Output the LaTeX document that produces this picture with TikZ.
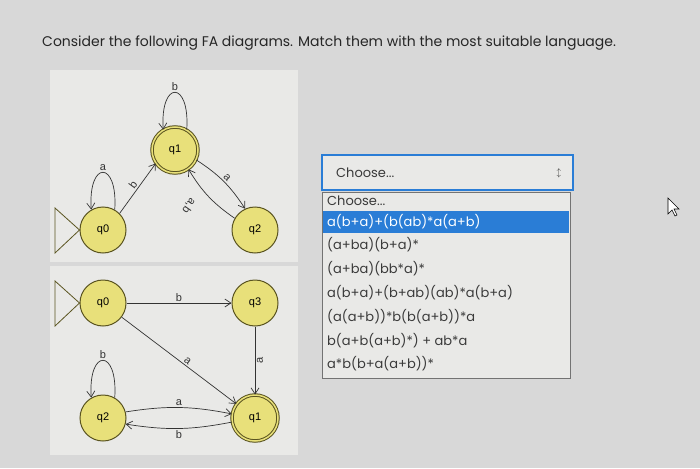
\documentclass[tikz,border=0pt]{standalone}
\usepackage{fontspec}
\setmainfont{Poppins}
\newfontfamily\arialf{Liberation Sans}
\usetikzlibrary{arrows.meta}
\definecolor{bg}{HTML}{D8D8D8}
\definecolor{panel}{HTML}{E9E9E7}
\definecolor{stfill}{HTML}{E8E07A}
\definecolor{stline}{HTML}{5A5420}
\definecolor{selblue}{HTML}{2A7DD6}
\definecolor{txt}{HTML}{3A3A3A}
\tikzset{
  st/.style={circle,draw=stline,line width=1pt,fill=stfill,minimum size=46pt,inner sep=0pt,font=\arialf\fontsize{11}{13}\selectfont},
  acc/.style={st,double=stfill,double distance=1.5pt},
  tr/.style={draw=black!80,line width=0.7pt,-{Straight Barb[length=6pt,width=8pt]}},
  lb/.style={font=\arialf\fontsize{11}{13}\selectfont,text=black!80,inner sep=1.5pt},
  opt/.style={anchor=west,font=\fontsize{13}{15}\selectfont,text=txt,inner sep=0pt},
}
\begin{document}
\begin{tikzpicture}[x=1pt,y=-1pt]
\useasboundingbox (0,0) rectangle (700,468);
\fill[bg] (0,0) rectangle (700,468);
\node[anchor=west,font=\fontsize{14}{16}\selectfont,text=black!85,inner sep=0] (title) at (42,43) {Consider the following FA diagrams. Match them with the most suitable language.};
\fill[panel] (50,70) rectangle (298,262);
\fill[panel] (50,266) rectangle (298,455);
% top FA
\node[acc] (a1) at (175,150) {q1};
\node[st] (a0) at (103,230) {q0};
\node[st] (a2) at (255,230) {q2};
\draw[stline,line width=0.8pt] (a0.west) -- (55,208) -- (55,253) -- cycle;
\draw[tr] (a1.60) .. controls (190,80) and (160,80) .. (a1.120) node[lb,pos=0.5,above] {b};
\draw[tr] (a0.60) .. controls (118,160) and (88,160) .. (a0.120) node[lb,pos=0.5,above] {a};
\draw[tr] (a0.45) -- (a1.215) node[lb,midway,sloped,above] {b};
\draw[tr] (a1.-25) to[bend left=12] node[lb,sloped,above] {a} (a2.115);
\draw[tr] (a2.150) to[bend left=12] (a1.-55);
\node[lb,rotate=-125] (ab) at (189,206) {a,b};
% bottom FA
\node[st] (b0) at (103,303) {q0};
\node[st] (b3) at (255,303) {q3};
\node[st] (b2) at (103,418) {q2};
\node[acc] (b1) at (255,418) {q1};
\draw[stline,line width=0.8pt] (b0.west) -- (55,281) -- (55,326) -- cycle;
\draw[tr] (b0) -- node[lb,above] {b} (b3);
\draw[tr] (b0) -- node[lb,pos=0.55,sloped,above] {a} (b1);
\draw[tr] (b3) -- node[lb,sloped,below,rotate=180] {a} (b1);
\draw[tr] (b2.60) .. controls (118,348) and (88,348) .. (b2.120) node[lb,pos=0.5,above] {b};
\draw[tr] (b2.15) to[bend left=10] node[lb,above] {a} (b1.170);
\draw[tr] (b1.-170) to[bend left=10] node[lb,below] {b} (b2.-15);
% dropdown
\draw[selblue,line width=1.2pt,fill=panel] (322,155) rectangle (573,190);
\node[opt] (ch) at (336,173) {Choose...};
\node[font=\fontsize{9}{10}\selectfont,text=txt] (arr) at (559,173) {$\updownarrow$};
\draw[black!55,line width=0.8pt,fill=panel] (322,192) rectangle (570,378);
\fill[selblue] (323,211) rectangle (569,233);
\node[opt] (o0) at (327,201) {Choose...};
\node[opt,text=white] (o1) at (327,222) {a(b+a)+(b(ab)*a(a+b)};
\node[opt] (o2) at (327,245) {(a+ba)(b+a)*};
\node[opt] (o3) at (327,269) {(a+ba)(bb*a)*};
\node[opt] (o4) at (327,293) {a(b+a)+(b+ab)(ab)*a(b+a)};
\node[opt] (o5) at (327,317) {(a(a+b))*b(b(a+b))*a};
\node[opt] (o6) at (327,341) {b(a+b(a+b)*) + ab*a};
\node[opt] (o7) at (327,364) {a*b(b+a(a+b))*};
% cursor
\draw[black,fill=white,line width=0.6pt] (668,198) -- (668,214) -- (672,210) -- (675,216) -- (677,215) -- (674,209) -- (679,209) -- cycle;
\end{tikzpicture}
\end{document}
